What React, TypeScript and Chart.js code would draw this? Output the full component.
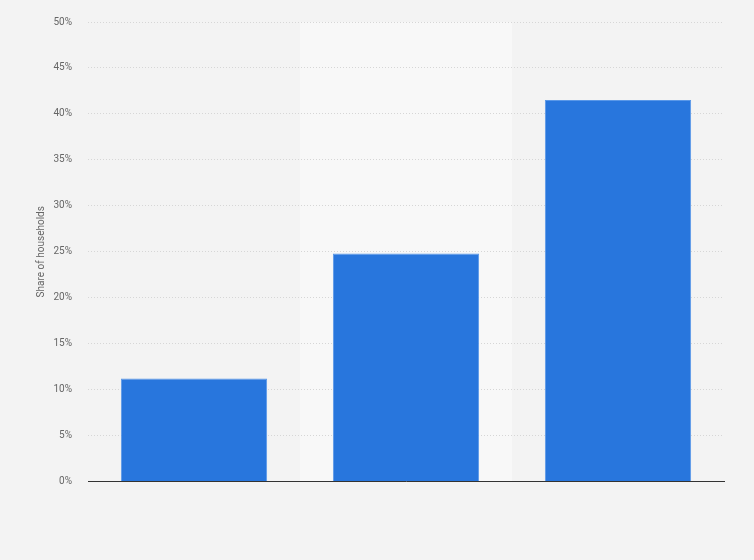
import React, { useEffect, useRef } from "react";
import { Chart, registerables } from "chart.js";

Chart.register(...registerables);

const categories = ["Group A", "Group B", "Group C"];
const shareValues = [11.2, 24.8, 41.5];
const yTicks = [0, 5, 10, 15, 20, 25, 30, 35, 40, 45, 50];

const bandPlugin = {
  id: "bands",
  beforeDraw(chart: any) {
    const { ctx, chartArea, scales } = chart;
    ctx.save();
    ctx.fillStyle = "#f3f3f3";
    ctx.fillRect(0, 0, chart.width, chart.height);
    const x = scales.x;
    const step = x.getPixelForValue(1) - x.getPixelForValue(0);
    const c = x.getPixelForValue(1);
    ctx.fillStyle = "#f8f8f8";
    ctx.fillRect(c - step / 2, chartArea.top, step, chartArea.bottom - chartArea.top);
    ctx.restore();
  },
};

export default function App() {
  const ref = useRef<HTMLCanvasElement>(null);
  useEffect(() => {
    document.body.style.margin = "0";
    const chart = new Chart(ref.current!, {
      type: "bar",
      data: {
        labels: categories,
        datasets: [
          {
            data: shareValues,
            backgroundColor: "#2876dd",
            borderColor: "#5a98e8",
            borderWidth: { left: 1, right: 1, top: 1, bottom: 0 },
            borderSkipped: "bottom",
            barPercentage: 0.69,
            categoryPercentage: 1,
          },
        ],
      },
      options: {
        animation: false,
        responsive: false,
        devicePixelRatio: 1,
        layout: { padding: { top: 15, right: 30, bottom: 0, left: 0 } },
        plugins: { legend: { display: false }, tooltip: { enabled: false } },
        scales: {
          x: {
            grid: { display: false, drawTicks: false },
            border: { display: true, color: "#333333", width: 1 },
            ticks: { display: false },
            afterFit(scale: any) {
              scale.height = 78.5;
            },
          },
          y: {
            min: 0,
            max: 50,
            afterBuildTicks(scale: any) {
              scale.ticks = yTicks.map((v) => ({ value: v }));
            },
            grid: {
              color: "#d6d6d6",
              drawTicks: false,
              lineWidth: 1,
            },
            border: { display: false, dash: [1, 2] },
            ticks: {
              padding: 16,
              color: "#666666",
              font: { family: "Roboto, Arial, sans-serif", size: 10 },
              callback: (v: any) => v + "%",
            },
            title: {
              display: true,
              text: "Share of households",
              color: "#666666",
              font: { family: "Roboto, Arial, sans-serif", size: 10 },
              padding: { top: 35, bottom: 0 },
            },
            afterFit(scale: any) {
              scale.width = 88;
            },
          },
        },
      },
      plugins: [bandPlugin],
    });
    return () => chart.destroy();
  }, []);
  return (
    <div style={{ width: 754, height: 560 }}>
      <canvas ref={ref} width={754} height={560} style={{ display: "block" }} />
    </div>
  );
}
